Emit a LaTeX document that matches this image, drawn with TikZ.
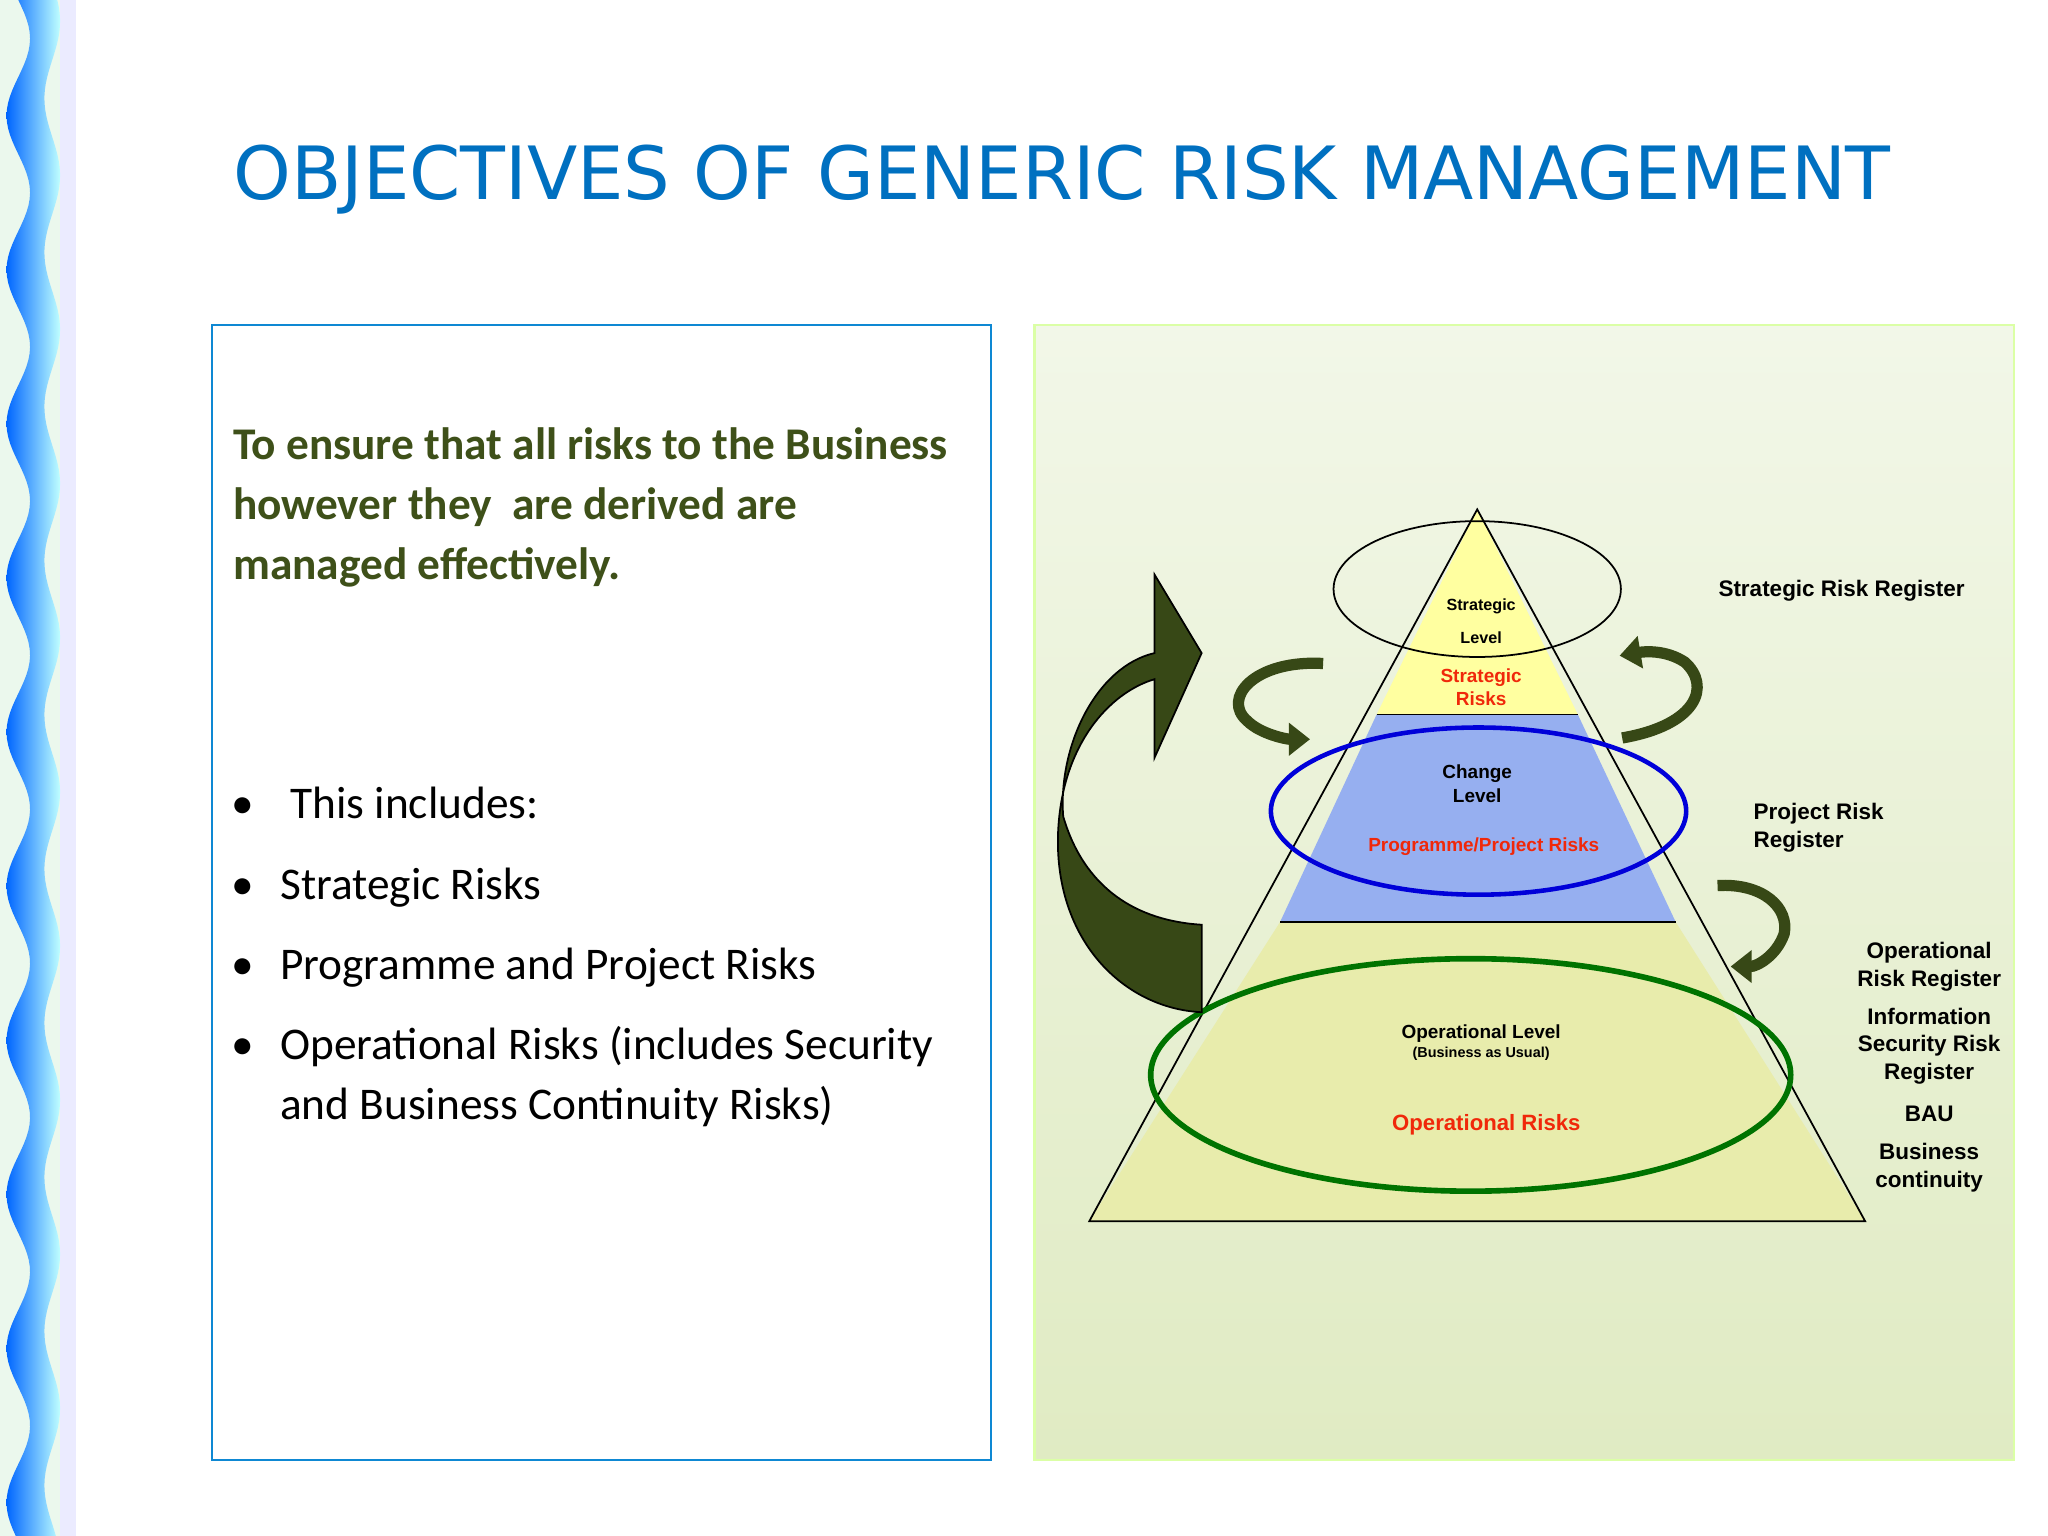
\documentclass[tikz,border=0pt]{standalone}
\usepackage{fontspec}
\setmainfont{Carlito}
\newfontfamily\arialf{Liberation Sans}
\newfontfamily\titlef{DejaVu Sans}
\usetikzlibrary{arrows.meta}
\definecolor{ttl}{RGB}{0,112,192}
\definecolor{olv}{RGB}{62,80,25}
\definecolor{arr}{RGB}{55,72,22}
\definecolor{pyy}{RGB}{255,255,160}
\definecolor{pyb}{RGB}{150,175,240}
\definecolor{pyg}{RGB}{232,236,172}
\definecolor{redt}{RGB}{240,40,10}
\definecolor{bgt}{RGB}{242,247,232}
\definecolor{bgb}{RGB}{224,235,195}
\tikzset{
 lt/.style={anchor=base west,inner sep=0pt,font=\fontsize{12.9}{17}\selectfont\bfseries,text=olv},
 bl/.style={anchor=base west,inner sep=0pt,font=\fontsize{12.9}{16}\selectfont},
 rt/.style={font=\arialf\bfseries\fontsize{6.4}{7.9}\selectfont,align=center},
 pt/.style={font=\arialf\bfseries\fontsize{4.6}{6.2}\selectfont,align=center},
 ptr/.style={pt,text=redt},
 carr/.style={arr,line width=3.2pt,-{Triangle[width=9pt,length=6pt]}}
}
\begin{document}
\begin{tikzpicture}[x=0.01306cm,y=-0.01306cm]
\useasboundingbox (0,0) rectangle (1568,1176);
\fill[white] (0,0) rectangle (1568,1176);
% left wavy border
\fill[cyan!15!green!8] (0,0) rectangle (58,1176);
\fill[blue!8] (46,0) rectangle (58,1176);
\shade[left color=blue!60!cyan,right color=cyan!25] plot[domain=0:1176,samples=240] ({14+9*sin((\x/118)*360)},\x) -- plot[domain=1176:0,samples=240] ({40+6*sin((\x/118)*360+40)},\x) -- cycle;
% title
\node[anchor=base west,inner sep=0pt,text=ttl,font=\titlef\fontsize{20.9}{22}\selectfont] (title) at (178,153) {OBJECTIVES OF GENERIC RISK MANAGEMENT};
% left box
\draw[cyan!70!blue,line width=0.6pt] (162,249) rectangle (759,1118);
\node[lt] (l1) at (178,352) {To ensure that all risks to the Business};
\node[lt] (l2) at (178,398) {however they\ \ are derived are};
\node[lt] (l3) at (178,444) {managed effectively.};
\foreach \y/\t [count=\i] in {627/{\ This includes:},689/Strategic Risks,750/Programme and Project Risks,811/Operational Risks (includes Security}{
 \node[bl] (b\i) at (214,\y) {\t};
 \node[bl] (d\i) at (177,\y) {\textbullet};
}
\node[bl] (b5) at (214,857) {and Business Continuity Risks)};
% right box
\shade[top color=bgt,bottom color=bgb] (792,249) rectangle (1542,1118);
\draw[green!40!yellow!35!white,line width=0.6pt] (792,249) rectangle (1542,1118);
% pyramid
\fill[pyg] (834,935) -- (1428,935) -- (1283,706) -- (980,706) -- cycle;
\fill[pyb] (980,706) -- (1283,706) -- (1208,547) -- (1054,547) -- cycle;
\fill[pyy] (1054,547) -- (1208,547) -- (1131,390) -- cycle;
\draw[line width=0.5pt] (834,935) -- (1428,935) -- (1131,390) -- cycle;
\draw[line width=0.5pt] (980,706) -- (1283,706) (1054,547) -- (1208,547);
\draw[line width=0.5pt] (1131,451) ellipse [x radius=110,y radius=52];
\draw[blue!85!black,line width=1.3pt] (1132,621) ellipse [x radius=159,y radius=64];
\draw[green!45!black,line width=1.6pt] (1126,823) ellipse [x radius=245,y radius=89];
% pyramid text
\node[pt] (sl) at (1134,464) {Strategic};
\node[pt] (sl2) at (1134,488) {Level};
\node[ptr,font=\arialf\bfseries\fontsize{5.4}{6.6}\selectfont] (sr) at (1134,526) {Strategic\\Risks};
\node[pt,font=\arialf\bfseries\fontsize{5.4}{6.6}\selectfont] (cl) at (1131,600) {Change\\Level};
\node[ptr,font=\arialf\bfseries\fontsize{5.4}{6.6}\selectfont] (pr) at (1136,648) {Programme/Project Risks};
\node[pt,font=\arialf\bfseries\fontsize{5.4}{6.6}\selectfont] (ol) at (1134,791) {Operational Level};
\node[pt,font=\arialf\bfseries\fontsize{4.1}{5}\selectfont] (ol2) at (1134,807) {(Business as Usual)};
\node[ptr,font=\arialf\bfseries\fontsize{6.3}{7}\selectfont] (or) at (1138,861) {Operational Risks};
% right texts
\node[rt] (srr) at (1410,452) {Strategic Risk Register};
\node[rt,align=left,anchor=west,inner sep=0pt] (prr) at (1342,634) {Project Risk\\Register};
\node[rt] (orr) at (1477,740) {Operational\\Risk Register};
\node[rt] (isr) at (1477,801) {Information\\Security Risk\\Register};
\node[rt] (bau) at (1477,853) {BAU};
\node[rt] (bc) at (1477,894) {Business\\continuity};
% big arrow
\filldraw[fill=arr,draw=black,line width=0.5pt] (920,775) .. controls (860,772) and (808,720) .. (810,640)
 .. controls (812,570) and (850,530) .. (884,520) -- (884,580) -- (920,500) -- (884,440) -- (884,500)
 .. controls (840,510) and (810,570) .. (814,625)
 .. controls (830,680) and (870,705) .. (920,708) -- cycle;
% small curved arrows
\draw[carr] (1013,508) .. controls (960,505) and (935,535) .. (955,552) .. controls (965,562) and (985,566) .. (1003,566);
\draw[carr] (1242,565) .. controls (1300,555) and (1310,525) .. (1290,507) .. controls (1275,497) and (1258,499) .. (1240,502);
\draw[carr] (1315,678) .. controls (1350,676) and (1370,695) .. (1366,715) .. controls (1360,732) and (1345,740) .. (1325,740);
\end{tikzpicture}
\end{document}
